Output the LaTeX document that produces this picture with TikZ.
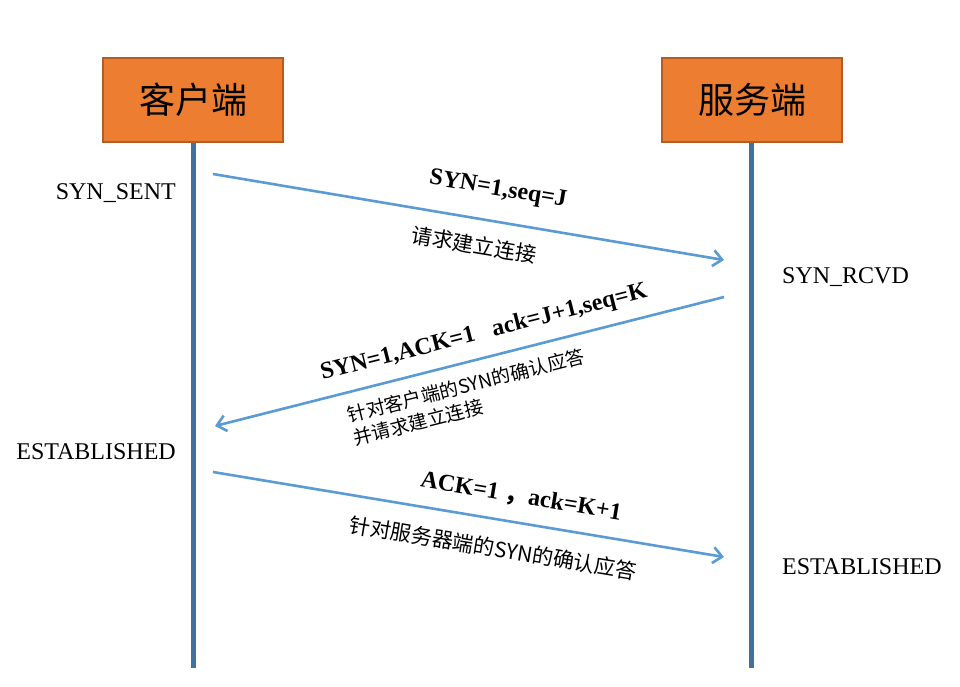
\documentclass[tikz,border=0pt]{standalone}
\usepackage{fontspec}
\setmainfont{Liberation Serif}
\newfontfamily\cjk{Noto Sans CJK SC}
\usetikzlibrary{arrows.meta}
\definecolor{boxfill}{HTML}{ED7D31}
\definecolor{boxline}{HTML}{B35D22}
\definecolor{life}{HTML}{41719C}
\definecolor{msg}{HTML}{5B9BD5}
\begin{document}
\begin{tikzpicture}[x=1pt,y=-1pt,
  actor/.style={draw=boxline, line width=1.2pt, fill=boxfill, minimum width=180pt, minimum height=84pt, inner sep=0pt, font=\cjk\fontsize{36}{40}\selectfont},
  lifeline/.style={draw=life, line width=5pt},
  msgarrow/.style={draw=msg, line width=2.6pt, -{Straight Barb[length=9pt,width=16pt]}},
  boldlbl/.style={inner sep=0pt, font=\bfseries\fontsize{24}{28}\selectfont},
  cnlbl/.style={inner sep=0pt, font=\cjk\fontsize{21}{25}\selectfont},
  cnsmall/.style={inner sep=0pt, align=left, font=\cjk\fontsize{19}{24}\selectfont},
  state/.style={inner sep=0pt, font=\fontsize{24}{28}\selectfont}]
\useasboundingbox[fill=white] (0,0) rectangle (960,686);

% actors
\node[actor] (client) at (193,100) {客户端};
\node[actor] (server) at (752,100) {服务端};

% lifelines
\coordinate (cend) at (193,668);
\coordinate (send) at (751,668);
\draw[lifeline] (client.south) -- (cend);
\draw[lifeline] (server.south -| send) -- (send);

% message end points
\coordinate (m1s) at (213,174);
\coordinate (m1e) at (724,260);
\coordinate (m2s) at (724,297);
\coordinate (m2e) at (215,426);
\coordinate (m3s) at (213,472);
\coordinate (m3e) at (724,557);

\draw[msgarrow] (m1s) -- (m1e);
\draw[msgarrow] (m2s) -- (m2e);
\draw[msgarrow] (m3s) -- (m3e);

% message labels
\node[boldlbl, rotate=-9.55] (l1a) at (498,190) {SYN=1,seq=J};
\node[cnlbl, rotate=-9.55] (l1b) at (474,245) {请求建立连接};

\node[boldlbl, rotate=14.22] (l2a) at (484,333) {SYN=1,ACK=1\ \ \ ack=J+1,seq=K};
\node[cnsmall, rotate=14.22] (l2b) at (469,397) {针对客户端的SYN的确认应答\\并请求建立连接};

\node[boldlbl, rotate=-9.44] (l3a) at (521,497) {ACK=1 {\cjk ，}ack=K+1};
\node[cnlbl, rotate=-9.44] (l3b) at (493,548) {针对服务器端的SYN的确认应答};

% states
\node[state, anchor=east] (s1) at (176,193) {SYN\_SENT};
\node[state, anchor=east] (s2) at (176,452) {ESTABLISHED};
\node[state, anchor=west] (s3) at (782,277) {SYN\_RCVD};
\node[state, anchor=west] (s4) at (782,567) {ESTABLISHED};
\end{tikzpicture}
\end{document}
